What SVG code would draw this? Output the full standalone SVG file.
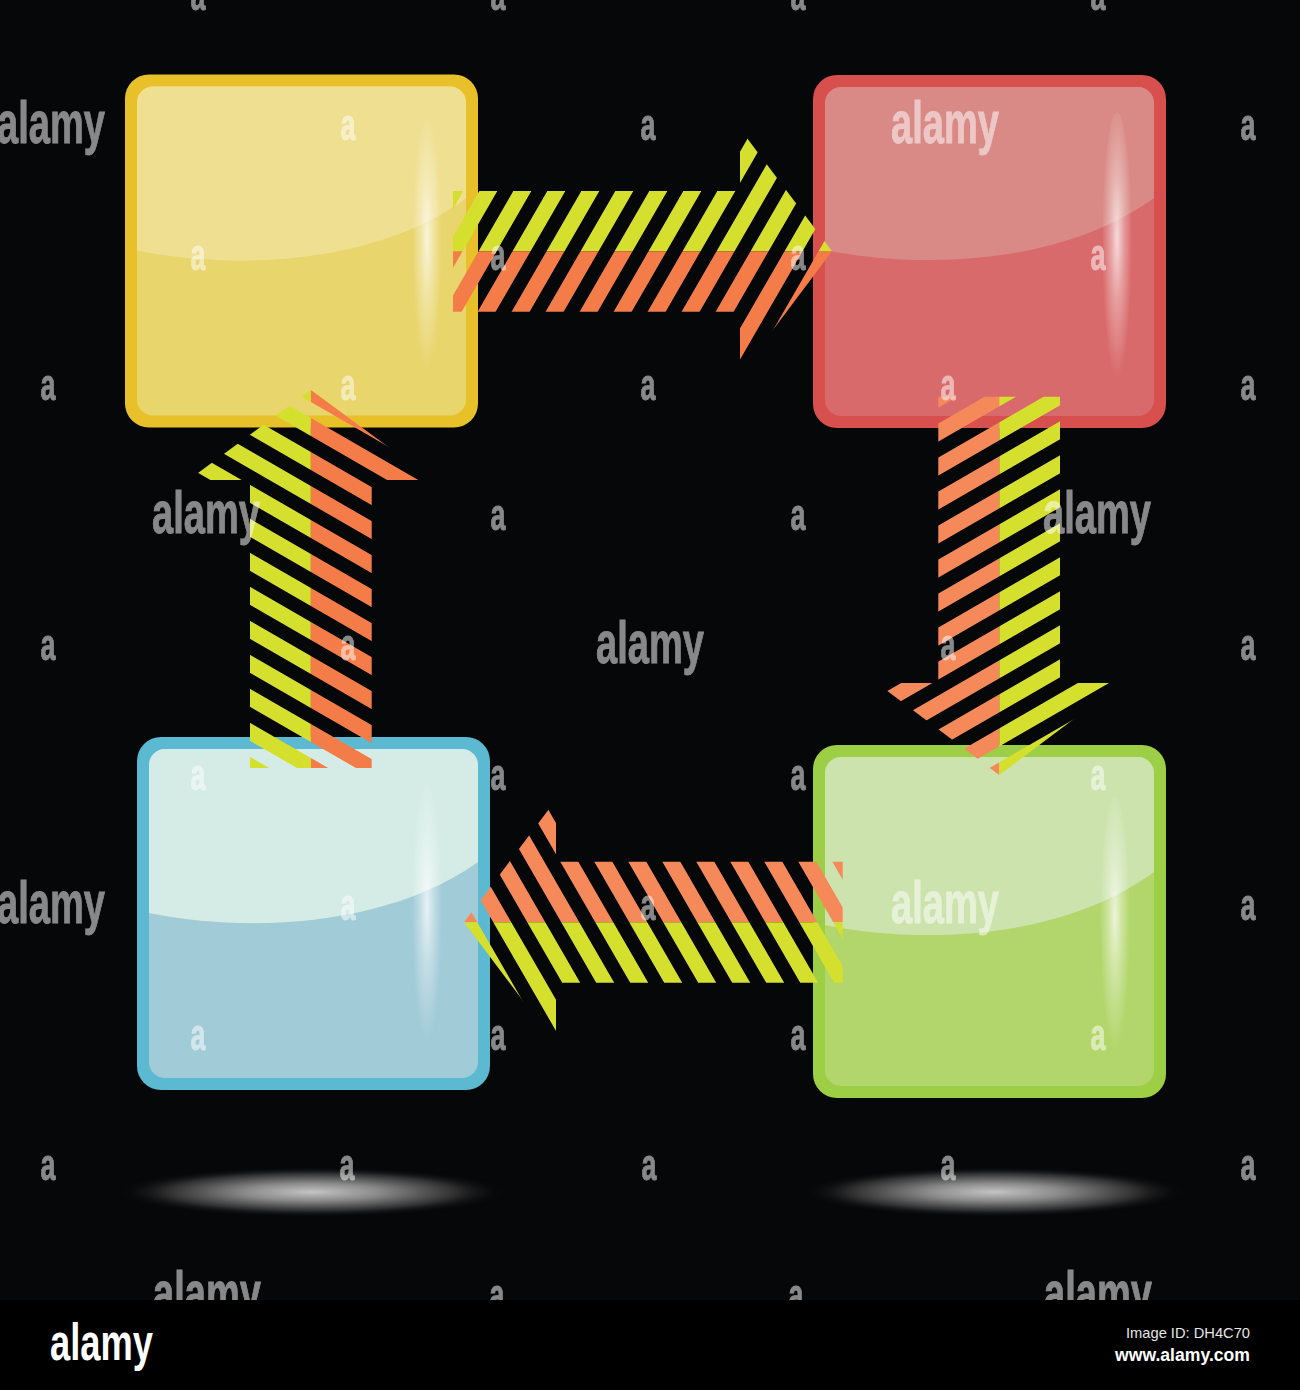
<svg xmlns="http://www.w3.org/2000/svg" width="1300" height="1390" viewBox="0 0 1300 1390">
<defs>
<style>
.wm{fill:#ffffff;stroke:#ffffff;stroke-width:0.9px;font-family:"Liberation Sans Narrow","Liberation Sans",Arial,sans-serif;font-weight:bold;text-anchor:middle}
.wa{font-size:45px}
.ww{font-size:60px}
.yel{fill:#d5df2e}
.org{fill:#f47c48}
.org2{fill:#f5895a}
</style>
<clipPath id="innerClip"><rect x="12" y="12" width="329" height="329" rx="16"/></clipPath>
<radialGradient id="hlGrad" cx="0.5" cy="0.45" r="0.5">
<stop offset="0" stop-color="#ffffff" stop-opacity="0.75"/>
<stop offset="0.45" stop-color="#ffffff" stop-opacity="0.35"/>
<stop offset="1" stop-color="#ffffff" stop-opacity="0"/>
</radialGradient>
<radialGradient id="shadowGrad" cx="0.5" cy="0.5" r="0.5">
<stop offset="0" stop-color="#c4c4c4"/>
<stop offset="0.35" stop-color="#8a8a8a"/>
<stop offset="0.75" stop-color="#2e2e2e"/>
<stop offset="1" stop-color="#060709" stop-opacity="0"/>
</radialGradient>
<pattern id="pTop" patternUnits="userSpaceOnUse" width="34" height="1400" patternTransform="skewX(-30) translate(11.6,0)"><rect width="18" height="1400" fill="#fff"/></pattern>
<pattern id="pBottom" patternUnits="userSpaceOnUse" width="34" height="1400" patternTransform="skewX(30) translate(28.8,0)"><rect width="18" height="1400" fill="#fff"/></pattern>
<pattern id="pLeft" patternUnits="userSpaceOnUse" width="1400" height="34" patternTransform="skewY(30) translate(0,0.5)"><rect width="1400" height="18" fill="#fff"/></pattern>
<pattern id="pRight" patternUnits="userSpaceOnUse" width="1400" height="34" patternTransform="skewY(-30) translate(0,13.3)"><rect width="1400" height="18" fill="#fff"/></pattern>
<mask id="mTop" maskUnits="userSpaceOnUse" x="0" y="0" width="1300" height="1390"><rect width="1300" height="1390" fill="url(#pTop)"/></mask>
<mask id="mBottom" maskUnits="userSpaceOnUse" x="0" y="0" width="1300" height="1390"><rect width="1300" height="1390" fill="url(#pBottom)"/></mask>
<mask id="mLeft" maskUnits="userSpaceOnUse" x="0" y="0" width="1300" height="1390"><rect width="1300" height="1390" fill="url(#pLeft)"/></mask>
<mask id="mRight" maskUnits="userSpaceOnUse" x="0" y="0" width="1300" height="1390"><rect width="1300" height="1390" fill="url(#pRight)"/></mask>
</defs>

<rect x="0" y="0" width="1300" height="1390" fill="#060709"/>

<g id="shadows">
<ellipse cx="312" cy="1192" rx="194" ry="25" fill="url(#shadowGrad)"/>
<ellipse cx="994" cy="1192" rx="192" ry="25" fill="url(#shadowGrad)"/>
</g>

<g id="node-yellow" transform="translate(125,74.5)">
<rect width="353" height="353" rx="24" fill="#e8c12a"/>
<rect x="12" y="12" width="329" height="329" rx="16" fill="#e8d56c"/>
<path clip-path="url(#innerClip)" d="M12,176 C110,196 250,190 341,124 L341,0 L12,0 Z" fill="#efdf90"/>
<ellipse cx="302" cy="178" rx="15" ry="132" fill="url(#hlGrad)"/>
</g>

<g id="node-red" transform="translate(813,75)">
<rect width="353" height="353" rx="24" fill="#d8504d"/>
<rect x="12" y="12" width="329" height="329" rx="16" fill="#d96a6b"/>
<path clip-path="url(#innerClip)" d="M12,175 C110,195 250,189 341,123 L341,0 L12,0 Z" fill="#d98a86"/>
<ellipse cx="304" cy="177" rx="15" ry="140" fill="url(#hlGrad)"/>
</g>

<g id="node-blue" transform="translate(137,737)">
<rect width="353" height="353" rx="24" fill="#5bb9d2"/>
<rect x="12" y="12" width="329" height="329" rx="16" fill="#a2cbd8"/>
<path clip-path="url(#innerClip)" d="M12,176 C110,196 250,190 341,125 L341,0 L12,0 Z" fill="#d5ece6"/>
<ellipse cx="290" cy="183" rx="15" ry="134" fill="url(#hlGrad)"/>
</g>

<g id="node-green" transform="translate(813,745)">
<rect width="353" height="353" rx="24" fill="#9ccf45"/>
<rect x="12" y="12" width="329" height="329" rx="16" fill="#b3d66c"/>
<path clip-path="url(#innerClip)" d="M12,180 C110,200 250,194 341,127 L341,0 L12,0 Z" fill="#cce3ad"/>
<ellipse cx="302" cy="185" rx="15" ry="133" fill="url(#hlGrad)"/>
</g>

<g id="connectors">
<g id="arrow-top" mask="url(#mTop)">
<polygon class="yel" points="453,191 740,191 740,128.8 832,251.3 453,251.3"/>
<polygon class="org" points="453,251.3 832,251.3 740,373.8 740,311.7 453,311.7"/>
</g>
<g id="arrow-right" mask="url(#mRight)">
<polygon class="org2" points="938.3,396.7 999.2,396.7 999.2,775 876.7,683 938.3,683"/>
<polygon class="yel" points="999.2,396.7 1060,396.7 1060,683 1121.7,683 999.2,775"/>
</g>
<g id="arrow-bottom" mask="url(#mBottom)">
<polygon class="org2" points="842.7,861.7 556,861.7 556,799.7 464,922.2 842.7,922.2"/>
<polygon class="yel" points="842.7,922.2 464,922.2 556,1044.7 556,982.7 842.7,982.7"/>
</g>
<g id="arrow-left" mask="url(#mLeft)">
<polygon class="yel" points="250,768 250,480 188.5,480 310.9,390 310.9,768"/>
<polygon class="org" points="310.9,390 433.3,480 371.7,480 371.7,768 310.9,768"/>
</g>
</g>

<g id="watermarks" opacity="0.52">
<text class="wm wa" x="198" y="9.5" textLength="15" lengthAdjust="spacingAndGlyphs">a</text>
<text class="wm wa" x="498" y="9.5" textLength="15" lengthAdjust="spacingAndGlyphs">a</text>
<text class="wm wa" x="798" y="9.5" textLength="15" lengthAdjust="spacingAndGlyphs">a</text>
<text class="wm wa" x="1098" y="9.5" textLength="15" lengthAdjust="spacingAndGlyphs">a</text>

<text class="wm ww" x="51" y="143" textLength="108" lengthAdjust="spacingAndGlyphs">alamy</text>
<text class="wm wa" x="348" y="139.5" textLength="15" lengthAdjust="spacingAndGlyphs">a</text>
<text class="wm wa" x="648" y="139.5" textLength="15" lengthAdjust="spacingAndGlyphs">a</text>
<text class="wm ww" x="945" y="143" textLength="108" lengthAdjust="spacingAndGlyphs">alamy</text>
<text class="wm wa" x="1248" y="139.5" textLength="15" lengthAdjust="spacingAndGlyphs">a</text>

<text class="wm wa" x="198" y="269.5" textLength="15" lengthAdjust="spacingAndGlyphs">a</text>
<text class="wm wa" x="498" y="269.5" textLength="15" lengthAdjust="spacingAndGlyphs">a</text>
<text class="wm wa" x="798" y="269.5" textLength="15" lengthAdjust="spacingAndGlyphs">a</text>
<text class="wm wa" x="1098" y="269.5" textLength="15" lengthAdjust="spacingAndGlyphs">a</text>

<text class="wm wa" x="48" y="399.5" textLength="15" lengthAdjust="spacingAndGlyphs">a</text>
<text class="wm wa" x="348" y="399.5" textLength="15" lengthAdjust="spacingAndGlyphs">a</text>
<text class="wm wa" x="648" y="399.5" textLength="15" lengthAdjust="spacingAndGlyphs">a</text>
<text class="wm wa" x="948" y="399.5" textLength="15" lengthAdjust="spacingAndGlyphs">a</text>
<text class="wm wa" x="1248" y="399.5" textLength="15" lengthAdjust="spacingAndGlyphs">a</text>

<text class="wm ww" x="206" y="533" textLength="108" lengthAdjust="spacingAndGlyphs">alamy</text>
<text class="wm wa" x="498" y="529.5" textLength="15" lengthAdjust="spacingAndGlyphs">a</text>
<text class="wm wa" x="798" y="529.5" textLength="15" lengthAdjust="spacingAndGlyphs">a</text>
<text class="wm ww" x="1097" y="533" textLength="108" lengthAdjust="spacingAndGlyphs">alamy</text>

<text class="wm wa" x="48" y="659.5" textLength="15" lengthAdjust="spacingAndGlyphs">a</text>
<text class="wm wa" x="348" y="659.5" textLength="15" lengthAdjust="spacingAndGlyphs">a</text>
<text class="wm ww" x="650" y="663" textLength="108" lengthAdjust="spacingAndGlyphs">alamy</text>
<text class="wm wa" x="948" y="659.5" textLength="15" lengthAdjust="spacingAndGlyphs">a</text>
<text class="wm wa" x="1248" y="659.5" textLength="15" lengthAdjust="spacingAndGlyphs">a</text>

<text class="wm wa" x="198" y="789.5" textLength="15" lengthAdjust="spacingAndGlyphs">a</text>
<text class="wm wa" x="498" y="789.5" textLength="15" lengthAdjust="spacingAndGlyphs">a</text>
<text class="wm wa" x="798" y="789.5" textLength="15" lengthAdjust="spacingAndGlyphs">a</text>
<text class="wm wa" x="1098" y="789.5" textLength="15" lengthAdjust="spacingAndGlyphs">a</text>

<text class="wm ww" x="51" y="923" textLength="108" lengthAdjust="spacingAndGlyphs">alamy</text>
<text class="wm wa" x="348" y="919.5" textLength="15" lengthAdjust="spacingAndGlyphs">a</text>
<text class="wm wa" x="648" y="919.5" textLength="15" lengthAdjust="spacingAndGlyphs">a</text>
<text class="wm ww" x="945" y="923" textLength="108" lengthAdjust="spacingAndGlyphs">alamy</text>
<text class="wm wa" x="1248" y="919.5" textLength="15" lengthAdjust="spacingAndGlyphs">a</text>

<text class="wm wa" x="198" y="1049.5" textLength="15" lengthAdjust="spacingAndGlyphs">a</text>
<text class="wm wa" x="498" y="1049.5" textLength="15" lengthAdjust="spacingAndGlyphs">a</text>
<text class="wm wa" x="798" y="1049.5" textLength="15" lengthAdjust="spacingAndGlyphs">a</text>
<text class="wm wa" x="1098" y="1049.5" textLength="15" lengthAdjust="spacingAndGlyphs">a</text>

<text class="wm wa" x="48" y="1179.5" textLength="15" lengthAdjust="spacingAndGlyphs">a</text>
<text class="wm wa" x="347" y="1179.5" textLength="15" lengthAdjust="spacingAndGlyphs">a</text>
<text class="wm wa" x="649" y="1179.5" textLength="15" lengthAdjust="spacingAndGlyphs">a</text>
<text class="wm wa" x="948" y="1179.5" textLength="15" lengthAdjust="spacingAndGlyphs">a</text>
<text class="wm wa" x="1248" y="1179.5" textLength="15" lengthAdjust="spacingAndGlyphs">a</text>

<text class="wm ww" x="207" y="1313" textLength="108" lengthAdjust="spacingAndGlyphs">alamy</text>
<text class="wm wa" x="497" y="1309.5" textLength="15" lengthAdjust="spacingAndGlyphs">a</text>
<text class="wm wa" x="796" y="1309.5" textLength="15" lengthAdjust="spacingAndGlyphs">a</text>
<text class="wm ww" x="1098" y="1313" textLength="108" lengthAdjust="spacingAndGlyphs">alamy</text>
</g>

<g id="footer">
<rect x="0" y="1300" width="1300" height="90" fill="#000000"/>
<text x="50" y="1360" font-family="'Liberation Sans Narrow','Liberation Sans',Arial,sans-serif" font-weight="bold" font-size="52" fill="#ffffff" textLength="103" lengthAdjust="spacingAndGlyphs">alamy</text>
<text x="1250" y="1338" text-anchor="end" font-family="'Liberation Sans Narrow','Liberation Sans',Arial,sans-serif" font-size="15" fill="#e6e6e6" textLength="124" lengthAdjust="spacingAndGlyphs">Image ID: DH4C70</text>
<text x="1250" y="1361" text-anchor="end" font-family="'Liberation Sans Narrow','Liberation Sans',Arial,sans-serif" font-weight="bold" font-size="18" fill="#ffffff" textLength="135" lengthAdjust="spacingAndGlyphs">www.alamy.com</text>
</g>
</svg>
